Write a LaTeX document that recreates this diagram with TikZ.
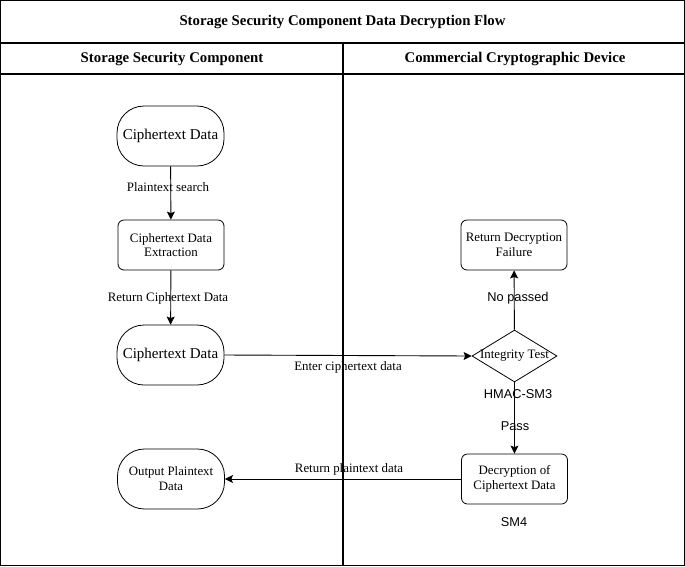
\documentclass[tikz,border=0pt]{standalone}
\usepackage{fontspec}
\setmainfont{Liberation Serif}
\newfontfamily\arialfont{Liberation Sans}
\usetikzlibrary{shapes.geometric,arrows.meta}
\begin{document}
\begin{tikzpicture}[x=1pt,y=-1pt,
  frame/.style={draw, line width=1.1pt},
  term/.style={draw, line width=0.8pt, rounded corners=27pt, minimum width=107pt, minimum height=60pt, inner sep=0pt, align=center, font=\fontsize{15}{17}\selectfont},
  termsm/.style={term, font=\fontsize{12.8}{15}\selectfont},
  proc/.style={draw, line width=0.8pt, rounded corners=6pt, minimum width=106pt, minimum height=50pt, align=center, inner sep=0pt, font=\fontsize{12.9}{14.5}\selectfont},
  dec/.style={draw, line width=0.8pt, diamond, minimum width=85pt, minimum height=52pt, inner sep=0pt},
  lbl/.style={font=\fontsize{12.9}{14}\selectfont, inner sep=0pt},
  slbl/.style={font=\arialfont\fontsize{12.8}{14}\selectfont, inner sep=0pt},
  arr/.style={draw, line width=0.9pt, -{Stealth[length=8pt,width=8pt,inset=1.5pt]}},
  hdr/.style={font=\bfseries\fontsize{14.8}{17}\selectfont, inner sep=0pt}
]
\useasboundingbox (0,0) rectangle (685,566);
% frame
\draw[frame] (0.5,0.5) rectangle (684.5,565.5);
\draw[frame] (0.5,43) -- (684.5,43);
\draw[frame] (0.5,74) -- (684.5,74);
\draw[frame] (343,43) -- (343,565.5);
\node[hdr] (title) at (342.5,21.5) {Storage Security Component Data Decryption Flow};
\node[hdr] (laneA) at (172,58.5) {Storage Security Component};
\node[hdr] (laneB) at (515,58.5) {Commercial Cryptographic Device};
% nodes
\node[term] (c1) at (170.5,136) {Ciphertext Data};
\node[proc] (ext) at (171,245) {Ciphertext Data\\Extraction};
\node[term] (c2) at (170.5,355) {Ciphertext Data};
\node[termsm] (out) at (171,479) {Output Plaintext\\Data};
\node[proc] (fail) at (514,245) {Return Decryption\\Failure};
\node[dec, label={[font=\fontsize{12.9}{14}\selectfont, inner sep=0pt]center:Integrity Test}] (dia) at (514.5,356) {};
\node[proc] (decr) at (514.5,479) {Decryption of\\Ciphertext Data};
% connectors
\draw[arr] (c1) -- (ext);
\draw[arr] (ext) -- (c2);
\draw[arr] (c2.east) -- (dia.west);
\draw[arr] (dia) -- (fail);
\draw[arr] (dia) -- (decr);
\draw[arr] (decr) -- (out);
% labels
\node[lbl] (l1) at (168,187) {Plaintext search};
\node[lbl] (l2) at (168,298) {Return Ciphertext Data};
\node[lbl] (l3) at (348,367.5) {Enter ciphertext data};
\node[lbl] (l4) at (349,469.5) {Return plaintext data};
\node[slbl] (l5) at (518,298) {No passed};
\node[slbl] (l6) at (518,394) {HMAC-SM3};
\node[slbl] (l7) at (515,426) {Pass};
\node[slbl] (l8) at (514,522) {SM4};
\end{tikzpicture}
\end{document}
